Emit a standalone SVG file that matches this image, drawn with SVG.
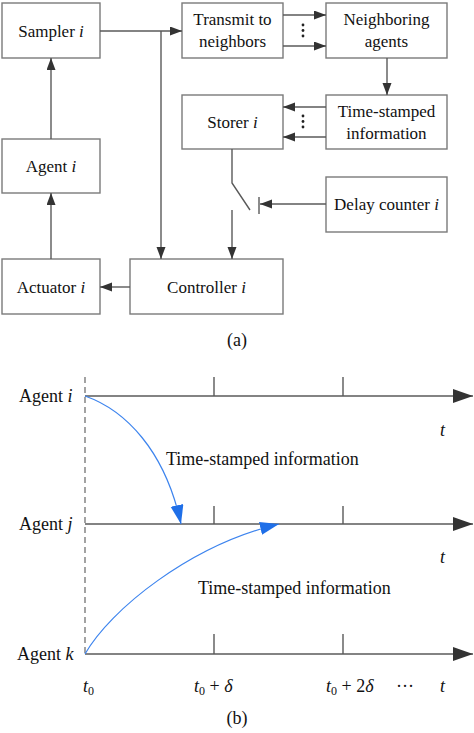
<svg xmlns="http://www.w3.org/2000/svg" width="474" height="733" viewBox="0 0 474 733" font-family="'Liberation Serif', 'Times New Roman', serif">
<style>
.box{fill:#fff;stroke:#7a7a7a;stroke-width:1.4}
.ln{fill:none;stroke:#5a5a5a;stroke-width:1.4}
.tx{font-family:'Liberation Serif','Times New Roman',serif;font-size:17px;fill:#111;text-anchor:middle}
.lb{font-family:'Liberation Serif','Times New Roman',serif;font-size:18px;fill:#111}
.blue{fill:none;stroke:#3d84ee;stroke-width:1.2}
.dots{fill:#222}
</style>
<defs>
<marker id="ah" markerUnits="userSpaceOnUse" markerWidth="13" markerHeight="10" refX="12" refY="4.5" orient="auto"><path d="M0,0 L12,4.5 L0,9 z" fill="#333"/></marker>
<marker id="ax" markerUnits="userSpaceOnUse" markerWidth="21" markerHeight="15" refX="20" refY="7" orient="auto"><path d="M0,0 L20,7 L0,14 z" fill="#333"/></marker>
<marker id="bh" markerUnits="userSpaceOnUse" markerWidth="20" markerHeight="14" refX="19" refY="6.5" orient="auto"><path d="M0,0 L19,6.5 L0,13 z" fill="#1f6fe8"/></marker>
</defs>

<g id="sampler"><rect class="box" x="2" y="3" width="98" height="55"/><text class="tx" x="51" y="37">Sampler <tspan font-style="italic">i</tspan></text></g>
<g id="transmit"><rect class="box" x="182" y="3" width="101" height="55"/><text class="tx" x="232.5" y="25">Transmit to</text><text class="tx" x="232.5" y="47">neighbors</text></g>
<g id="neighboring"><rect class="box" x="326" y="3" width="121" height="55"/><text class="tx" x="386.5" y="25">Neighboring</text><text class="tx" x="386.5" y="47">agents</text></g>
<g id="storer"><rect class="box" x="182" y="95" width="101" height="54"/><text class="tx" x="232.5" y="128">Storer <tspan font-style="italic">i</tspan></text></g>
<g id="timestamped"><rect class="box" x="326" y="95" width="121" height="54"/><text class="tx" x="386.5" y="117">Time-stamped</text><text class="tx" x="386.5" y="139">information</text></g>
<g id="delay"><rect class="box" x="326" y="177" width="121" height="55"/><text class="tx" x="386.5" y="210">Delay counter <tspan font-style="italic">i</tspan></text></g>
<g id="agent"><rect class="box" x="2" y="139" width="98" height="54"/><text class="tx" x="51" y="172">Agent <tspan font-style="italic">i</tspan></text></g>
<g id="actuator"><rect class="box" x="2" y="259" width="98" height="55"/><text class="tx" x="51" y="293">Actuator <tspan font-style="italic">i</tspan></text></g>
<g id="controller"><rect class="box" x="130" y="259" width="153" height="55"/><text class="tx" x="206.5" y="293">Controller <tspan font-style="italic">i</tspan></text></g>

<g id="connectors">
<path class="ln" d="M100,31 H182" marker-end="url(#ah)"/>
<path class="ln" d="M161,31 V259" marker-end="url(#ah)"/>
<path class="ln" d="M283,15 H326" marker-end="url(#ah)"/>
<path class="ln" d="M283,46 H326" marker-end="url(#ah)"/>
<path class="ln" d="M387,58 V95" marker-end="url(#ah)"/>
<path class="ln" d="M326,107 H283" marker-end="url(#ah)"/>
<path class="ln" d="M326,137 H283" marker-end="url(#ah)"/>
<path class="ln" d="M232,149 V183 L250,210"/>
<path class="ln" d="M259,197 V214"/>
<path class="ln" d="M326,204 H260" marker-end="url(#ah)"/>
<path class="ln" d="M232,210 V259" marker-end="url(#ah)"/>
<path class="ln" d="M130,287 H100" marker-end="url(#ah)"/>
<path class="ln" d="M51,259 V193" marker-end="url(#ah)"/>
<path class="ln" d="M51,139 V58" marker-end="url(#ah)"/>
</g>
<g id="ellipsis" class="dots">
<circle cx="303" cy="25" r="1.4"/><circle cx="303" cy="30.5" r="1.4"/><circle cx="303" cy="36" r="1.4"/>
<circle cx="303" cy="116" r="1.4"/><circle cx="303" cy="121.5" r="1.4"/><circle cx="303" cy="127" r="1.4"/>
</g>
<text class="lb" x="237" y="346" text-anchor="middle">(a)</text>

<g id="timeline">
<path d="M85,377 V654" fill="none" stroke="#666" stroke-width="1.2" stroke-dasharray="6,4"/>
<path class="ln" d="M85,396 H473" marker-end="url(#ax)"/>
<path class="ln" d="M85,524 H473" marker-end="url(#ax)"/>
<path class="ln" d="M85,654 H473" marker-end="url(#ax)"/>
<path class="ln" d="M214,377 V396 M343,377 V396 M214,506 V524 M343,506 V524 M214,634 V654 M343,634 V654"/>
<path class="blue" d="M85,396 C125,410 165,450 181,524" marker-end="url(#bh)"/>
<path class="blue" d="M85,654 C110,610 190,545 279,524" marker-end="url(#bh)"/>
</g>
<g id="labels-b" class="lb">
<text x="19" y="402">Agent <tspan font-style="italic">i</tspan></text>
<text x="19" y="530">Agent <tspan font-style="italic">j</tspan></text>
<text x="17" y="660">Agent <tspan font-style="italic">k</tspan></text>
<text x="440" y="436" font-style="italic">t</text>
<text x="440" y="563" font-style="italic">t</text>
<text x="166" y="465">Time-stamped information</text>
<text x="198" y="594">Time-stamped information</text>
<text x="83" y="692"><tspan font-style="italic">t</tspan><tspan font-size="12" dy="3">0</tspan></text>
<text x="194" y="692"><tspan font-style="italic">t</tspan><tspan font-size="12" dy="3">0</tspan><tspan dy="-3"> + </tspan><tspan font-style="italic">δ</tspan></text>
<text x="326" y="692"><tspan font-style="italic">t</tspan><tspan font-size="12" dy="3">0</tspan><tspan dy="-3"> + 2</tspan><tspan font-style="italic">δ</tspan></text>
<text x="396" y="692">···</text>
<text x="440" y="692" font-style="italic">t</text>
<text x="237" y="724" text-anchor="middle">(b)</text>
</g>
</svg>
